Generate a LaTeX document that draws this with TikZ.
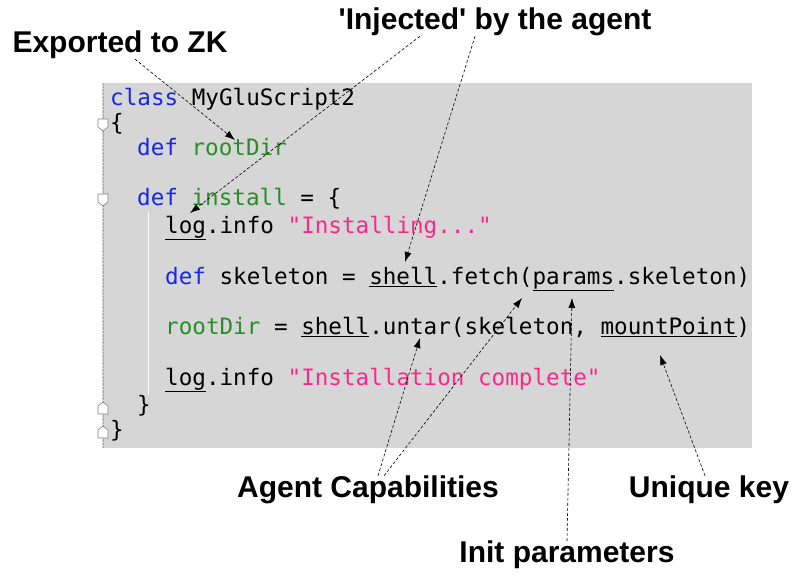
\documentclass[tikz,border=0pt]{standalone}
\usepackage{fontspec}
\setmainfont{Liberation Sans}
\newfontfamily\codefont{DejaVu Sans Mono}
\usetikzlibrary{arrows.meta}
\definecolor{kw}{RGB}{20,40,230}
\definecolor{gr}{RGB}{40,140,40}
\definecolor{pk}{RGB}{250,40,140}
\definecolor{bg}{RGB}{214,214,214}
\begin{document}
\begin{tikzpicture}[x=1pt,y=-1pt,
 code/.style={anchor=base west,inner sep=0pt,font=\codefont\fontsize{22.6}{24}\selectfont},
 lab/.style={inner sep=0pt,font=\bfseries\fontsize{30}{32}\selectfont},
 ann/.style={densely dashed,-{Latex[length=10pt,width=7pt]},line width=0.6pt},
 fold/.style={draw=gray,fill=white,line width=0.6pt}]
\useasboundingbox (0,0) rectangle (800,581);
\fill[bg] (102,83) rectangle (752,448);
\draw[gray!70,densely dotted] (103,83) -- (103,448);
\draw[white,line width=1pt] (148,212) -- (148,395);
\foreach \y in {125,200}{\draw[fold] (98,\y-6) -- (108,\y-6) -- (108,\y+2) -- (103,\y+6) -- (98,\y+2) -- cycle;}
\foreach \y in {408,432}{\draw[fold] (98,\y+6) -- (108,\y+6) -- (108,\y-2) -- (103,\y-6) -- (98,\y-2) -- cycle;}
\node[code] (l1) at (110,105) {\textcolor{kw}{class} MyGluScript2};
\node[code] (l2) at (110,130) {\{};
\node[code] (l3) at (137,155) {\textcolor{kw}{def} \textcolor{gr}{rootDir}};
\node[code] (l4) at (137,205) {\textcolor{kw}{def} \textcolor{gr}{install} = \{};
\node[code] (l5) at (165,233) {\underline{log}.info \textcolor{pk}{"Installing..."}};
\node[code] (l6) at (165,284) {\textcolor{kw}{def} skeleton = \underline{shell}.fetch(\underline{params}.skeleton)};
\node[code] (l7) at (165,334) {\textcolor{gr}{rootDir} = \underline{shell}.untar(skeleton, \underline{mountPoint})};
\node[code] (l8) at (165,385) {\underline{log}.info \textcolor{pk}{"Installation complete"}};
\node[code] (l9) at (137,412) {\}};
\node[code] (l10) at (110,437) {\}};
\node[lab] (exp) at (120,45) {Exported to ZK};
\node[lab] (inj) at (495,22) {\textquotesingle Injected\textquotesingle{} by the agent};
\node[lab] (cap) at (368,490) {Agent Capabilities};
\node[lab] (uk) at (709,490) {Unique key};
\node[lab] (ip) at (567,555) {Init parameters};
\coordinate (tRoot) at (235,140);
\coordinate (tLog) at (190,213);
\coordinate (tShell) at (405,262);
\coordinate (tUntar) at (420,338);
\coordinate (tFetch) at (522,298);
\coordinate (tParams) at (572,298);
\coordinate (tMount) at (660,355);
\draw[ann] ([xshift=15pt]exp.south) -- (tRoot);
\draw[ann] ([xshift=-75pt]inj.south) -- (tLog);
\draw[ann] ([xshift=-20pt]inj.south) -- (tShell);
\draw[ann] ([xshift=10pt]cap.north) -- (tUntar);
\draw[ann] ([xshift=16pt]cap.north) -- (tFetch);
\draw[ann] ([xshift=0pt]ip.north) -- (tParams);
\draw[ann] ([xshift=-4pt]uk.north) -- (tMount);
\end{tikzpicture}
\end{document}
